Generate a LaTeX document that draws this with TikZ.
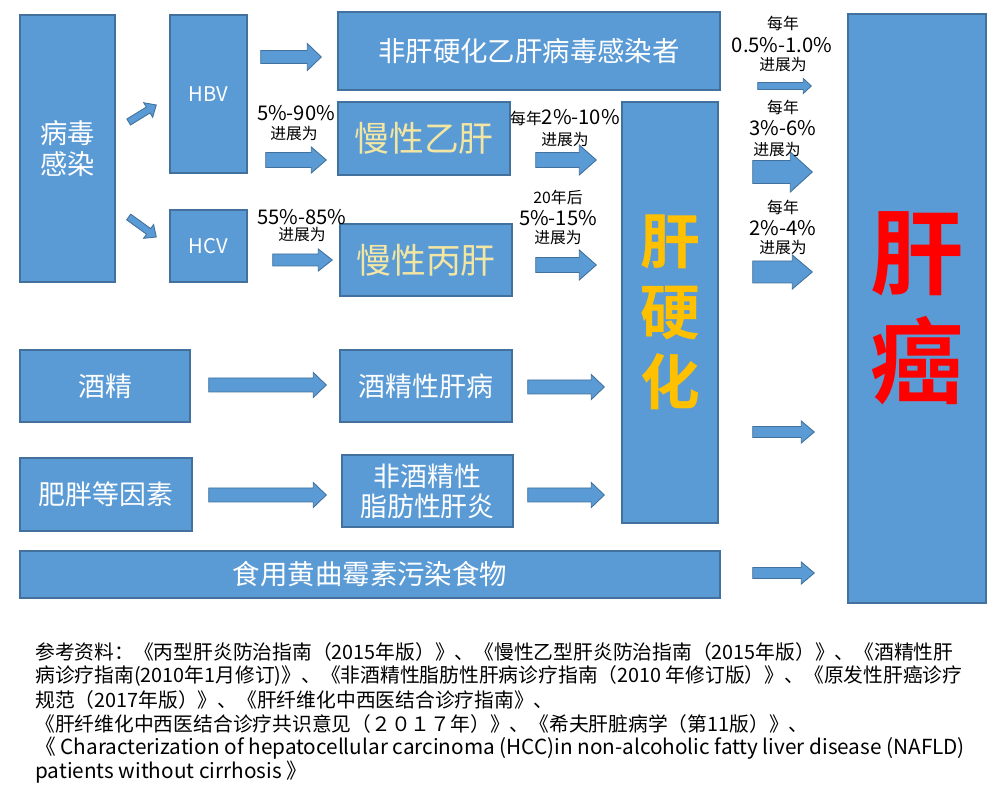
\documentclass[tikz,border=0pt]{standalone}
\usepackage{fontspec}
\setmainfont{Noto Sans CJK SC}[BoldFont={Noto Sans CJK SC Bold}]
\usetikzlibrary{
    calc,
    positioning
}
\definecolor{boxfill}{HTML}{5B9BD5}
\definecolor{boxline}{HTML}{41719C}
\definecolor{paleyellow}{HTML}{F2E6A2}
\definecolor{gold}{HTML}{FFC000}
\tikzset{
    box/.style={draw=boxline, fill=boxfill, line width=0.8pt, text=white, align=center, inner sep=0pt},
    barrow/.style={draw=boxline, fill=boxfill, line width=0.5pt},
    lbl/.style={font=\fontsize{11.5}{12}\selectfont, inner sep=0pt},
    sublbl/.style={font=\fontsize{9}{10}\selectfont, inner sep=0pt},
    refline/.style={anchor=west, font=\fontsize{11.25}{12}\selectfont, inner sep=0pt}
}
\newcommand{\blkarrow}[5]{
    \coordinate (bs) at (#1);
    \coordinate (be) at (#2);
    \coordinate (bn) at ($(be)!#5!(bs)$);
    \draw[barrow] ($(bs)!#3!90:(be)$) -- ($(bn)!#3!90:(be)$) -- ($(bn)!#4!90:(be)$) -- (be)
        -- ($(bn)!#4!-90:(be)$) -- ($(bn)!#3!-90:(be)$) -- ($(bs)!#3!-90:(be)$) -- cycle;
}

\begin{document}
\begin{tikzpicture}[x=0.2mm, y=-0.2mm]
    \useasboundingbox (0, 0) rectangle (1000, 794);
    % boxes
    \node[box, minimum width=19mm, minimum height=53.4mm, font=\fontsize{15.5}{18}\selectfont] (virus) at (67.5, 148.5) {病毒\\感染};
    \node[box, minimum width=15.4mm, minimum height=31.6mm, font=\fontsize{11.5}{12}\selectfont] (hbv) at (208.5, 94) {HBV};
    \node[box, minimum width=15.4mm, minimum height=14.4mm, font=\fontsize{11.5}{12}\selectfont] (hcv) at (208.5, 246) {HCV};
    \node[box, minimum width=76.4mm, minimum height=15.6mm, font=\fontsize{15.6}{18}\selectfont] (carrier) at (529, 51) {非肝硬化乙肝病毒感染者};
    \node[box, minimum width=34.4mm, minimum height=14.6mm, text=paleyellow, font=\fontsize{19.8}{22}\selectfont] (chb) at (424, 138.5) {慢性乙肝};
    \node[box, minimum width=34.4mm, minimum height=14.4mm, text=paleyellow, font=\fontsize{19.8}{22}\selectfont] (chc) at (426, 260) {慢性丙肝};
    \node[box, minimum width=19.2mm, minimum height=84.2mm, text=gold, font=\fontsize{34}{40}\selectfont\bfseries] (cirr) at (670, 312.5) {肝\\硬\\化};
    \node[box, minimum width=27.6mm, minimum height=117.8mm, text=red, font=\fontsize{53}{62}\selectfont\bfseries] (hcc) at (917, 308.5) {肝\\癌};
    \node[box, minimum width=34mm, minimum height=14.4mm, font=\fontsize{15.3}{18}\selectfont] (alcohol) at (105, 386) {酒精};
    \node[box, minimum width=34.4mm, minimum height=14.4mm, font=\fontsize{15.3}{18}\selectfont] (ald) at (426, 386) {酒精性肝病};
    \node[box, minimum width=34.4mm, minimum height=14.6mm, font=\fontsize{15.3}{18}\selectfont] (obesity) at (106, 494.5) {肥胖等因素};
    \node[box, minimum width=34.2mm, minimum height=14.4mm, font=\fontsize{15.3}{17}\selectfont] (nash) at (427.5, 491) {非酒精性\\脂肪性肝炎};
    \node[box, minimum width=140mm, minimum height=9.4mm, font=\fontsize{15.6}{18}\selectfont] (aflatoxin) at (370, 574.5) {食用黄曲霉素污染食物};
    % arrows
    \blkarrow{$(virus.east)+(13,-26.5)$}{$(hbv.west)+(-13,11)$}{0.7mm}{1.7mm}{1.9mm}
    \blkarrow{$(virus.east)+(13,68.5)$}{$(hcv.west)+(-13,-9)$}{0.7mm}{1.7mm}{1.9mm}
    \blkarrow{$(hbv.east)+(13,-37)$}{$(carrier.west)+(-16,6)$}{1.3mm}{2.7mm}{2.8mm}
    \blkarrow{$(hbv.east)+(18,66)$}{$(chb.west)+(-11,21.5)$}{1.5mm}{2.6mm}{3mm}
    \blkarrow{$(hcv.east)+(25,14)$}{$(chc.west)+(-7,0)$}{1.2mm}{2.2mm}{2.8mm}
    \blkarrow{$(chb.east)+(25,21.5)$}{$(cirr.west)+(-25,-152.5)$}{1.5mm}{3mm}{3.4mm}
    \blkarrow{$(chc.east)+(23,5)$}{$(cirr.west)+(-25,-47.5)$}{1.5mm}{3mm}{3.4mm}
    \blkarrow{$(alcohol.east)+(18,-1)$}{$(ald.west)+(-13,-1)$}{1.4mm}{2.5mm}{2.6mm}
    \blkarrow{$(obesity.east)+(16,0.5)$}{$(nash.west)+(-15,4)$}{1.4mm}{2.5mm}{2.6mm}
    \blkarrow{$(ald.east)+(15,1)$}{$(cirr.west)+(-17,74.5)$}{1.4mm}{2.5mm}{2.6mm}
    \blkarrow{$(nash.east)+(14,4)$}{$(cirr.west)+(-17,182.5)$}{1.4mm}{2.5mm}{2.6mm}
    \blkarrow{$(carrier.east)+(37,35)$}{$(hcc.west)+(-36,-222.5)$}{0.7mm}{1.5mm}{1.6mm}
    \blkarrow{$(cirr.east)+(34,-140.5)$}{$(hcc.west)+(-35,-136.5)$}{2.3mm}{4mm}{4.4mm}
    \blkarrow{$(cirr.east)+(34,-40.5)$}{$(hcc.west)+(-35,-36.5)$}{2.2mm}{3.4mm}{4mm}
    \blkarrow{$(cirr.east)+(34,119.5)$}{$(hcc.west)+(-33,123.5)$}{1.1mm}{2.2mm}{2.6mm}
    \blkarrow{$(aflatoxin.east)+(32,-1.5)$}{$(hcc.west)+(-33,264.5)$}{1.1mm}{2.2mm}{2.6mm}
    % rates
    \node[lbl] (hbvrate) at (296, 113) {5\%-90\%};
    \node[sublbl] (hbvto) at (294, 134) {进展为};
    \node[lbl] (hcvrate) at (302, 217) {55\%-85\%};
    \node[sublbl] (hcvto) at (302, 235) {进展为};
    \node[lbl] (chbrate) at (565, 118) {{\fontsize{9}{10}\selectfont 每年}2\%-10\%};
    \node[sublbl] (chbto) at (565, 140) {进展为};
    \node[sublbl] (chcyear) at (558, 197) {20年后};
    \node[lbl] (chcrate) at (558, 218) {5\%-15\%};
    \node[sublbl] (chcto) at (558, 238) {进展为};
    \node[sublbl] (caryear) at (783, 23) {每年};
    \node[lbl] (carrate) at (782, 45) {0.5\%-1.0\%};
    \node[sublbl] (carto) at (783, 65) {进展为};
    \node[sublbl] (ciryear) at (783, 107) {每年};
    \node[lbl] (cirrate) at (783, 128) {3\%-6\%};
    \node[sublbl] (cirto) at (777, 150) {进展为};
    \node[sublbl] (cir2year) at (783, 207) {每年};
    \node[lbl] (cir2rate) at (783, 228) {2\%-4\%};
    \node[sublbl] (cir2to) at (783, 248) {进展为};
    % references
    \node[refline] (ref1) at (35, 652) {参考资料：《丙型肝炎防治指南（2015年版）》、《慢性乙型肝炎防治指南（2015年版）》、《酒精性肝};
    \node[refline] (ref2) at (35, 676) {病诊疗指南(2010年1月修订)》、《非酒精性脂肪性肝病诊疗指南（2010 年修订版）》、《原发性肝癌诊疗};
    \node[refline] (ref3) at (35, 700) {规范（2017年版）》、《肝纤维化中西医结合诊疗指南》、};
    \node[refline] (ref4) at (35, 724) {《肝纤维化中西医结合诊疗共识意见（２０１７年）》、《希夫肝脏病学（第11版）》、};
    \node[refline, font=\fontsize{11.8}{12}\selectfont] (ref5) at (35, 748) {《 Characterization of hepatocellular carcinoma (HCC)in non-alcoholic fatty liver disease (NAFLD)};
    \node[refline, font=\fontsize{11.8}{12}\selectfont] (ref6) at (35, 772) {patients without cirrhosis 》};
\end{tikzpicture}
\end{document}
